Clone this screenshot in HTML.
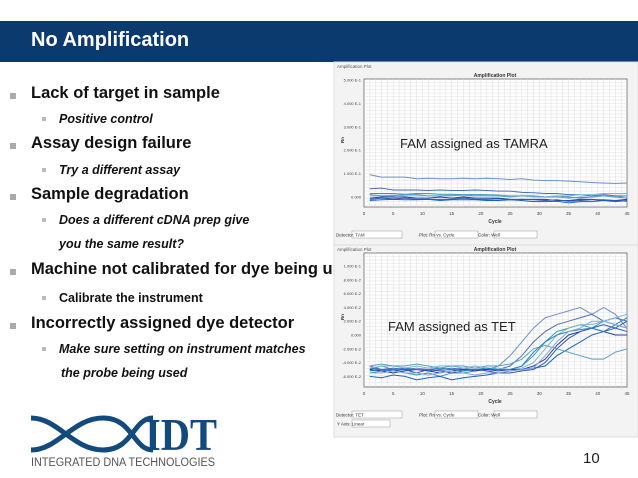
<!DOCTYPE html>
<html><head><meta charset="utf-8"><style>
body{margin:0;width:638px;height:478px;overflow:hidden;background:#fff;font-family:"Liberation Sans",sans-serif;position:relative}
.abs{position:absolute}
.hdr{left:0;top:21px;width:638px;height:41px;background:#0b3a6e}
.hdr span{position:absolute;left:31px;top:8px;color:#fff;font-weight:bold;font-size:20px}
.b1{position:absolute;left:31px;font-weight:bold;font-size:16.5px;color:#111;white-space:nowrap}
.b2{position:absolute;left:59px;font-weight:bold;font-style:italic;font-size:12.5px;color:#111;white-space:nowrap}
.sq1{position:absolute;left:10px;width:6px;height:6px;background:#aaa}
.sq2{position:absolute;left:42px;width:4px;height:4px;background:#bbb}
</style></head><body>
<div class="abs hdr"><span>No Amplification</span></div>

<div class="sq1" style="top:93px"></div><div class="b1" style="top:84px">Lack of target in sample</div>
<div class="sq2" style="top:117px"></div><div class="b2" style="top:112px">Positive control</div>
<div class="sq1" style="top:143px"></div><div class="b1" style="top:134px">Assay design failure</div>
<div class="sq2" style="top:168px"></div><div class="b2" style="top:163px">Try a different assay</div>
<div class="sq1" style="top:194px"></div><div class="b1" style="top:185px">Sample degradation</div>
<div class="sq2" style="top:218px"></div><div class="b2" style="top:213px">Does a different cDNA prep give</div>
<div class="b2" style="top:237px">you the same result?</div>
<div class="sq1" style="top:269px"></div><div class="b1" style="top:260px">Machine not calibrated for dye being u</div>
<div class="sq2" style="top:296px"></div><div class="b2" style="top:291px;font-style:normal">Calibrate the instrument</div>
<div class="sq1" style="top:323px"></div><div class="b1" style="top:314px">Incorrectly assigned dye detector</div>
<div class="sq2" style="top:347px"></div><div class="b2" style="top:342px">Make sure setting on instrument matches</div>
<div class="b2" style="top:366px;left:61px">the probe being used</div>

<svg class="abs" style="left:28px;top:410px" width="200" height="62">
<path d="M3 8 C30 8,45 40,75 40 S105 8,125 8" fill="none" stroke="#124a7e" stroke-width="5"/>
<path d="M3 40 C30 40,45 8,75 8 S105 40,125 40" fill="none" stroke="#124a7e" stroke-width="5"/>
<text x="117" y="40" font-family="Liberation Serif" font-weight="bold" font-size="46" fill="#124a7e" textLength="72" lengthAdjust="spacingAndGlyphs">IDT</text>
<text x="3" y="56" font-family="Liberation Sans" font-size="11.5" fill="#555" textLength="184" lengthAdjust="spacingAndGlyphs">INTEGRATED DNA TECHNOLOGIES</text>
</svg>
<div class="abs" style="left:583px;top:450px;font-size:15px;color:#222">10</div>

<svg id="ch" class="abs" style="left:0;top:0" width="638" height="478"></svg>

<script>
const cycles=[1,3,5,7,9,11,13,15,17,19,21,23,25,27,29,31,33,35,37,39,41,43,45];
const xTicks=[0,5,10,15,20,25,30,35,40,45];
const topTickVals=[0,1,2,3,4,5];
const topTickLabels=["0.000","1.000 E-1","2.000 E-1","3.000 E-1","4.000 E-1","5.000 E-1"];
const botTickVals=[-6,-4,-2,0,2,4,6,8,10];
const botTickLabels=["-6.000 E-2","-4.000 E-2","-2.000 E-2","0.000","2.000 E-2","4.000 E-2","6.000 E-2","8.000 E-2","1.000 E-1"];
const top1=[0.95,0.85,0.85,0.85,0.78,0.8,0.78,0.78,0.8,0.78,0.8,0.78,0.75,0.78,0.72,0.7,0.7,0.68,0.65,0.62,0.6,0.58,0.6];
const top2=[0.35,0.38,0.3,0.3,0.3,0.28,0.3,0.28,0.28,0.3,0.28,0.25,0.25,0.2,0.18,0.15,0.15,0.1,0.1,0.05,0.1,0.05,0.05];
const top3=[0.15,0.15,0.15,0.12,0.15,0.15,0.12,0.12,0.1,0.1,0.1,0.08,0.05,0.05,0.05,0,0.05,0,-0.05,0,0.05,0,-0.05];
const top4=[0.05,0.05,0.08,0.05,0.05,0.05,0.05,0.08,0.05,0.05,0.08,0.05,0.05,0.05,0,0,0.05,0.05,0.1,0.1,0.15,0.15,0.15];
const top5=[-0.05,0,0,0,-0.05,-0.05,0,-0.05,0,-0.05,-0.05,-0.05,-0.1,-0.1,-0.1,-0.1,-0.15,-0.15,-0.1,-0.1,-0.15,-0.15,-0.1];
const top6=[-0.15,-0.12,-0.1,-0.12,-0.12,-0.1,-0.15,-0.12,-0.12,-0.12,-0.15,-0.15,-0.12,-0.15,-0.2,-0.2,-0.18,-0.25,-0.2,-0.2,-0.15,-0.2,-0.15];
const top7=[0.1,0.05,0.05,0.1,0.1,0.05,0.05,0.05,0.1,0.05,0.05,0.05,0,0.05,0.05,0,0,-0.05,0,0,0.05,0,0.05];
const top8=[-0.1,-0.05,-0.08,-0.05,-0.1,-0.1,-0.1,-0.1,-0.05,-0.1,-0.1,-0.08,-0.12,-0.1,-0.12,-0.15,-0.12,-0.18,-0.15,-0.12,-0.12,-0.15,-0.18];
const bot1=[-5,-4.5,-5,-5,-4.8,-5,-5.2,-5,-4.8,-5,-5,-4.5,-3,-1,1,2.5,3,3.5,4,3,4,3,1];
const bot2=[-4.5,-5,-4.8,-5,-5,-5.2,-5,-4.8,-5,-5,-5,-5,-4.5,-3,-1,0.5,1.5,2,2.5,3,2,2.5,2];
const bot3=[-5.5,-5.2,-5,-5.5,-5.8,-5.5,-6,-5.5,-5.5,-5.2,-5,-5,-5,-4.5,-3,-1,0.5,1,1.5,1,2,1.5,1];
const bot4=[-4.8,-4.5,-4.5,-4.8,-4.5,-4.8,-4.5,-4.5,-4.8,-4.5,-4.8,-4.8,-5,-4.8,-4,-2,0,1,1.5,1.5,2,2.5,3];
const bot5=[-5,-5.2,-5.5,-5.2,-5,-5.2,-5.5,-5.2,-5,-5.2,-5,-5.2,-5,-5,-4.5,-3.5,-1.5,0,0.5,1,0.5,0,0];
const bot6=[-6,-6.2,-5.8,-6,-6.5,-6.2,-6,-6.5,-6.2,-6,-5.8,-5.5,-5.2,-5,-4.8,-4.5,-3,-2,-1,0,0.5,1,2];
const bot7=[-4.5,-4.2,-4.5,-4.5,-4.2,-4.5,-4.8,-4.5,-4.5,-4.8,-4.5,-4.5,-4.2,-3.5,-2,-1.5,-2,-2.5,-3,-3.5,-3.5,-2.5,-2];
const bot8=[-5.2,-5,-5.2,-5,-5.5,-5,-5.2,-5.5,-5.2,-5,-5.2,-5.5,-5.5,-5.2,-5,-4,-2,-0.5,0.5,1,1.5,1,0.5];
const bot9=[-4.8,-5,-5,-4.8,-5,-5,-4.8,-5,-5.2,-5,-4.8,-5,-5,-4.5,-2.5,-1,0,0.5,0.8,1,0.5,1.5,2.5];
const bot10=[-5.5,-5.5,-5.2,-5.5,-5.5,-5.8,-5.5,-5.2,-5.5,-5.8,-5.5,-5.5,-5.2,-5,-4.8,-3,-1,0.5,1,2,2,1.5,1];

const svg=document.getElementById('ch');
const NS='http://www.w3.org/2000/svg';
function mk(t,a,p){const e=document.createElementNS(NS,t);for(const k in a)e.setAttribute(k,a[k]);(p||svg).appendChild(e);return e;}
const colors=["#6d8fcc","#4a6fb5","#2f9cb8","#7fb8d4","#1a3fa8","#1565c0","#5aa0c8","#3a55b0","#2e7fbf","#8aa4d8"];

function panel(o){
  const g=mk('g',{});
  
  
  const bg=mk('rect',{x:334,y:o.py,width:304,height:o.ph,fill:'#f3f3f3',stroke:'#ddd'},g);
  
  
  const lab=mk('text',{x:337,y:o.py+6,'font-size':4.5,fill:'#555'},g);lab.textContent='Amplification Plot';
  
  
  const X=c=>364+(c/45)*263;
  const Y=o.Y;
  const pr=mk('rect',{x:364,y:o.top,width:263,height:o.bot-o.top,fill:'#fff',stroke:'#666','stroke-width':0.8},g);
  
  
  for(let c=1;c<45;c++){mk('line',{x1:X(c),x2:X(c),y1:o.top,y2:o.bot,stroke:'#ddd','stroke-width':0.5},g);}
  for(let y=o.top+3.5;y<o.bot;y+=3.5){mk('line',{x1:364,x2:627,y1:y,y2:y,stroke:'#ddd','stroke-width':0.5},g);}
  const t=mk('text',{x:495,y:o.top-2,'font-size':5,'font-weight':'bold','text-anchor':'middle',fill:'#333'},g);t.textContent='Amplification Plot';
  
  
  o.tv.forEach((v,i)=>{const tx=mk('text',{x:361,y:Y(v)+1.5,'font-size':4,'text-anchor':'end',fill:'#444'},g);tx.textContent=o.tl[i];
    
    });
  xTicks.forEach(c=>{const tx=mk('text',{x:X(c),y:o.bot+8,'font-size':4.5,'text-anchor':'middle',fill:'#444'},g);tx.textContent=c;
    
    });
  const cy=mk('text',{x:495,y:o.bot+16,'font-size':5,'font-weight':'bold','text-anchor':'middle',fill:'#333'},g);cy.textContent='Cycle';
  
  
  const rn=mk('text',{x:344,y:(o.top+o.bot)/2,'font-size':4.5,'font-weight':'bold',fill:'#333',transform:`rotate(-90 344 ${(o.top+o.bot)/2})`},g);rn.textContent='Rn';
  
  
  o.series.forEach((s,i)=>{
    const p=mk('polyline',{points:s.map((v,j)=>X(cycles[j])+','+Y(v)).join(' '),fill:'none',stroke:colors[i%colors.length],'stroke-width':1},g);
    
    
  });
  const cb=o.bot+24;
  [[336,'Detector: '+o.det,62],[419,'Plot: Rn vs. Cycle',55],[478,'Color: Well',55]].forEach(d=>{
    const r=mk('rect',{x:d[0]+16,y:cb,width:d[2]-12,height:7,fill:'#fff',stroke:'#999','stroke-width':0.5},g);
    
    
    const tt=mk('text',{x:d[0],y:cb+5.5,'font-size':4.5,fill:'#333'},g);tt.textContent=d[1];
  });
  const lb=mk('text',{x:o.lx,y:o.ly,'font-size':13,fill:'#222'},g);lb.textContent=o.label;
  
  
}
panel({name:'tamra-plot',py:62,ph:183,top:79,bot:207,Y:v=>197-v*23.4,tv:topTickVals,tl:topTickLabels,
  series:[top1,top2,top3,top4,top5,top6,top7,top8],det:'TAM',label:'FAM assigned as TAMRA',lx:400,ly:148});
panel({name:'tet-plot',py:245,ph:192,top:253,bot:387,Y:v=>335-v*6.9,tv:botTickVals,tl:botTickLabels,
  series:[bot1,bot2,bot3,bot4,bot5,bot6,bot7,bot8,bot9,bot10],det:'TET',label:'FAM assigned as TET',lx:388,ly:331});
const ya=mk('rect',{x:352,y:420,width:38,height:7,fill:'#fff',stroke:'#999','stroke-width':0.5});


const yt=mk('text',{x:337,y:425.5,'font-size':4.5,fill:'#333'});yt.textContent='Y Axis: Linear';
</script>
</body></html>
